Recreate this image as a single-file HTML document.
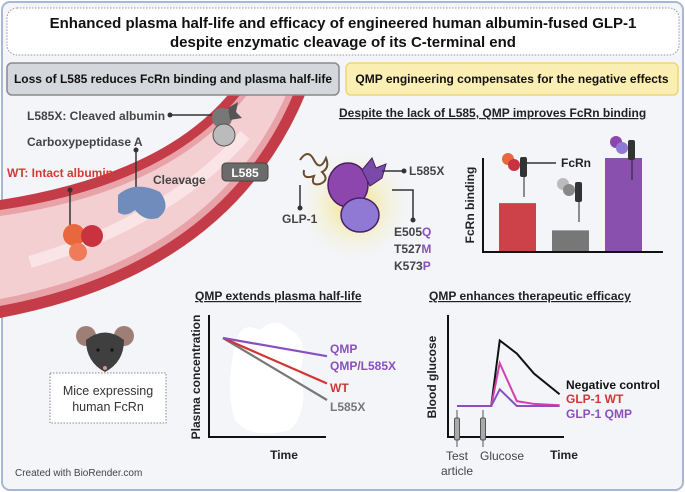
<!DOCTYPE html>
<html><head><meta charset="utf-8"><style>
html,body{margin:0;padding:0;background:#fff}
svg{display:block;font-family:"Liberation Sans",sans-serif}
</style></head><body>
<svg id="root" width="685" height="492" viewBox="0 0 685 492">
<rect x="2" y="2" width="681" height="488" rx="8" fill="#f3f5f9" stroke="#a9b8d2" stroke-width="2"/>
<rect x="7" y="8" width="672" height="47" rx="10" fill="#fff" stroke="#999" stroke-dasharray="1.5 1.5"/>
<text x="343" y="28" text-anchor="middle" font-size="15" font-weight="bold" fill="#111">Enhanced plasma half-life and efficacy of engineered human albumin-fused GLP-1</text>
<text x="343" y="47" text-anchor="middle" font-size="15" font-weight="bold" fill="#111">despite enzymatic cleavage of its C-terminal end</text>

<!-- vessel -->
<g>
<path d="M0,200 Q160,175 228,95 L305,95 Q230,275 0,318 Z" fill="#c43c47"/>
<path d="M0,210 Q168,185 240,95 L293,95 Q220,265 0,306 Z" fill="#e8a3a8"/>
<path d="M0,216 Q172,192 247,95 L286,95 Q214,258 0,299 Z" fill="#f4cfd1"/>
<path d="M30,262 Q170,220 245,135" stroke="#fbe9ea" stroke-width="12" fill="none" opacity="0.8"/>
</g>

<rect x="7" y="63" width="332" height="32" rx="5" fill="#d4d7db" stroke="#8a8a8a" stroke-width="1.5"/>
<text x="173" y="83" text-anchor="middle" font-size="12" font-weight="bold" fill="#111">Loss of L585 reduces FcRn binding and plasma half-life</text>
<rect x="346" y="63" width="332" height="32" rx="5" fill="#fbeeb2" stroke="#efd772" stroke-width="1.5"/>
<text x="512" y="83" text-anchor="middle" font-size="12" font-weight="bold" fill="#111">QMP engineering compensates for the negative effects</text>

<g>
<circle cx="222" cy="118" r="10" fill="#777"/><circle cx="224" cy="135" r="11" fill="#bbb" stroke="#555"/><path d="M228,108 l10,-6 -2,10 6,6 -12,2z" fill="#555"/>
</g>
<line x1="170" y1="115" x2="212" y2="115" stroke="#333" stroke-width="1.5"/>
<circle cx="170" cy="115" r="2.5" fill="#333"/>
<text x="27" y="120" font-size="12" font-weight="bold" fill="#444">L585X: Cleaved albumin</text>
<text x="27" y="146" font-size="12" font-weight="bold" fill="#444">Carboxypeptidase A</text>
<line x1="136" y1="150" x2="136" y2="192" stroke="#333" stroke-width="1.5"/><circle cx="136" cy="150" r="2.5" fill="#333"/>
<path d="M118,195 Q135,180 160,192 Q172,208 158,218 Q145,222 135,210 Q125,218 118,212 Z" fill="#6f8cbc"/>
<text x="7" y="177" font-size="12" font-weight="bold" fill="#d23a33">WT: Intact albumin</text>
<line x1="70" y1="190" x2="70" y2="225" stroke="#333" stroke-width="1.5"/><circle cx="70" cy="190" r="2.5" fill="#333"/>
<text x="153" y="184" font-size="12" font-weight="bold" fill="#444">Cleavage</text>
<rect x="222" y="163" width="46" height="18" rx="4" fill="#6b6b6b" stroke="#444"/>
<text x="245" y="177" text-anchor="middle" font-size="12" font-weight="bold" fill="#fff">L585</text>
<g>
<circle cx="74" cy="235" r="11" fill="#e8673c"/><circle cx="92" cy="236" r="11" fill="#c8333f"/><circle cx="78" cy="252" r="9" fill="#f07a5a"/>
</g>

<!-- QMP molecule -->
<defs><radialGradient id="glow"><stop offset="0" stop-color="#f6e170"/><stop offset="1" stop-color="#f3f5f9" stop-opacity="0"/></radialGradient></defs>
<circle cx="355" cy="205" r="62" fill="url(#glow)"/>
<text x="339" y="117" font-size="12" font-weight="bold" fill="#222" text-decoration="underline">Despite the lack of L585, QMP improves FcRn binding</text>
<path d="M300,160 q8,-12 14,0 q6,12 12,-2 q4,10 -4,14 q8,8 -2,12 q-10,2 -6,-8 q-12,4 -10,-6" stroke="#6b4b2f" stroke-width="2" fill="none"/>
<g>
<ellipse cx="348" cy="185" rx="20" ry="22" fill="#8c46ad" stroke="#4a2066" stroke-width="1.5"/>
<path d="M362,170 l10,-12 4,10 10,-4 -4,14 -12,8z" fill="#7a4aa8" stroke="#4a2066"/>
<ellipse cx="360" cy="215" rx="19" ry="17" fill="#8f79d5" stroke="#4a2066" stroke-width="1.5"/>
</g>
<line x1="382" y1="171" x2="404" y2="171" stroke="#333" stroke-width="1.5"/><circle cx="404" cy="171" r="2.5" fill="#333"/>
<text x="409" y="175" font-size="12" font-weight="bold" fill="#444">L585X</text>
<line x1="300" y1="185" x2="300" y2="208" stroke="#333" stroke-width="1.5"/><circle cx="300" cy="208" r="2.5" fill="#333"/>
<text x="282" y="223" font-size="12" font-weight="bold" fill="#444">GLP-1</text>
<polyline points="392,190 413,190 413,220" stroke="#333" stroke-width="1.5" fill="none"/><circle cx="413" cy="220" r="2.5" fill="#333"/>
<text font-size="12" font-weight="bold" fill="#444"><tspan x="394" y="236">E505<tspan fill="#8a4fc0">Q</tspan></tspan><tspan x="394" y="253">T527<tspan fill="#8a4fc0">M</tspan></tspan><tspan x="394" y="270">K573<tspan fill="#8a4fc0">P</tspan></tspan></text>

<g id="barChart"></g>

<g>
<circle cx="86" cy="336" r="10" fill="#9e7e76"/><circle cx="124" cy="336" r="10" fill="#9e7e76"/>
<path d="M86,340 Q105,325 124,340 Q124,362 105,372 Q86,362 86,340Z" fill="#3f3f3f"/>
<circle cx="98" cy="350" r="1.6" fill="#111"/><circle cx="112" cy="350" r="1.6" fill="#111"/><circle cx="105" cy="368" r="2" fill="#c99"/>
</g>
<rect x="50" y="373" width="116" height="50" fill="#fff" stroke="#888" stroke-dasharray="1.5 1.5"/>
<text x="108" y="395" text-anchor="middle" font-size="12.5" fill="#333">Mice expressing</text>
<text x="108" y="411" text-anchor="middle" font-size="12.5" fill="#333">human FcRn</text>
<text x="15" y="476" font-size="10" fill="#444">Created with BioRender.com</text>

<text x="195" y="300" font-size="12" font-weight="bold" fill="#222" text-decoration="underline">QMP extends plasma half-life</text>
<g id="hlChart"></g>
<text x="429" y="300" font-size="12" font-weight="bold" fill="#222" text-decoration="underline">QMP enhances therapeutic efficacy</text>
<g id="efChart"></g>
</svg>
<script>
const barCats=["WT","L585X","QMP"];
const barVals=[0.52,0.23,1.0];
const barColors=["#cc4248","#777777","#8950ad"];
const hlSeries=["QMP","WT","L585X"];
const hlStart=[1,1,1];
const hlEnd=[0.78,0.45,0.25];
const efTimes=[0,1,2,2.5,3.5,4.5,6];
const efNeg=[0,0,0,0.95,0.76,0.47,0.17];
const efWT=[0,0,0,0.62,0.07,0.03,0.01];
const efQMP=[0,0,0,0.24,0,0,0];
const NS="http://www.w3.org/2000/svg";
function mk(p,t,a){const e=document.createElementNS(NS,t);for(const k in a)e.setAttribute(k,a[k]);p.appendChild(e);return e;}
function txt(p,x,y,s,a){const e=mk(p,"text",Object.assign({x:x,y:y,"font-size":12,"font-weight":"bold"},a||{}));e.textContent=s;return e;}
(function(){const g=document.getElementById("barChart");
const x0=483,yb=252,yt=158,h=yb-yt;
const bx=i=>499+i*53, bw=37, by=v=>yb-v*h;
barVals.forEach((v,i)=>{const r=mk(g,"rect",{x:bx(i),y:by(v),width:bw,height:yb-by(v),fill:barColors[i]});

});
const ax=mk(g,"polyline",{points:`${x0},${yt} ${x0},${yb} 663,${yb}`,stroke:"#111","stroke-width":2,fill:"none"});

const yl=txt(g,0,0,"FcRn binding",{transform:`translate(474,205) rotate(-90)`,"text-anchor":"middle","fill":"#222"});

const fl=txt(g,561,167,"FcRn",{fill:"#222"});
mk(g,"line",{x1:527,y1:163,x2:556,y2:163,stroke:"#333","stroke-width":1.5});
const cols=[["#e8673c","#c8333f"],["#bbb","#888"],["#8c46ad","#8f79d5"]];
[[512,165],[567,190],[620,148]].forEach((c,i)=>{mk(g,"circle",{cx:c[0]-4,cy:c[1]-6,r:6,fill:cols[i][0]});mk(g,"circle",{cx:c[0]+2,cy:c[1],r:6,fill:cols[i][1]});
mk(g,"rect",{x:c[0]+8,y:c[1]-8,width:7,height:20,fill:"#333",rx:2});mk(g,"line",{x1:c[0]+12,y1:c[1]+12,x2:c[0]+12,y2:c[1]+32,stroke:"#222","stroke-width":1});});
})();
(function(){const g=document.getElementById("hlChart");
mk(g,"path",{d:"M235,345 Q240,320 260,330 Q275,315 290,330 Q310,340 300,370 Q310,410 290,430 Q250,440 235,420 Q225,390 235,345Z",fill:"#fff"});
const xa=t=>223+t*104, ya=v=>400-(v-0.25)/0.75*62;
const cols={QMP:"#8a4fc0",WT:"#d43434","L585X":"#777"};
["L585X","WT","QMP"].forEach(s=>{const i=hlSeries.indexOf(s);
const l=mk(g,"line",{x1:xa(0),y1:ya(hlStart[i]),x2:xa(1),y2:ya(hlEnd[i]),stroke:cols[s],"stroke-width":2.2});
});
const ax=mk(g,"polyline",{points:"209,315 209,437 326,437",stroke:"#111","stroke-width":2,fill:"none"});

const lbls=[["QMP",353,"#8a4fc0"],["QMP/L585X",370,"#8a4fc0"],["WT",392,"#d43434"],["L585X",411,"#777"]];
lbls.forEach(l=>{const t=txt(g,330,l[1],l[0],{fill:l[2]});});
const yt=txt(g,0,0,"Plasma concentration",{transform:"translate(200,377) rotate(-90)","text-anchor":"middle",fill:"#222"});

const xt=txt(g,284,459,"Time",{"text-anchor":"middle",fill:"#222"});
})();
(function(){const g=document.getElementById("efChart");
const xe=t=>457+t*17.1, ye=v=>406-v*69;
const series=[["negative-control",efNeg,"#111"],["glp1-wt",efWT,"#d43fae"],["glp1-qmp",efQMP,"#8a4fc0"]];
series.forEach(s=>{const pts=efTimes.map((t,i)=>xe(t)+","+ye(s[1][i])).join(" ");
const p=mk(g,"polyline",{points:pts,stroke:s[2],"stroke-width":2,fill:"none"});
});
const ax=mk(g,"polyline",{points:"448,315 448,437 564,437",stroke:"#111","stroke-width":2,fill:"none"});

[["Negative control",389,"#111"],["GLP-1 WT",403,"#d43434"],["GLP-1 QMP",418,"#8a4fc0"]].forEach(l=>{const t=txt(g,566,l[1],l[0],{fill:l[2]});
});
const yt=txt(g,0,0,"Blood glucose",{transform:"translate(436,377) rotate(-90)","text-anchor":"middle",fill:"#222"});

[457,483].forEach(x=>{const s=mk(g,"g",{});
mk(s,"rect",{x:x-2.5,y:418,width:5,height:22,rx:1.5,fill:"#aaa",stroke:"#555"});mk(s,"line",{x1:x,y1:410,x2:x,y2:418,stroke:"#555"});mk(s,"line",{x1:x,y1:440,x2:x,y2:447,stroke:"#555"});});
[["Test",457,460],["article",457,475],["Glucose",502,460]].forEach(l=>{const t=txt(g,l[1],l[2],l[0],{"text-anchor":"middle","font-weight":"normal",fill:"#444"});
});
const xt=txt(g,564,459,"Time",{"text-anchor":"middle",fill:"#222"});
})();
</script>
</body></html>
